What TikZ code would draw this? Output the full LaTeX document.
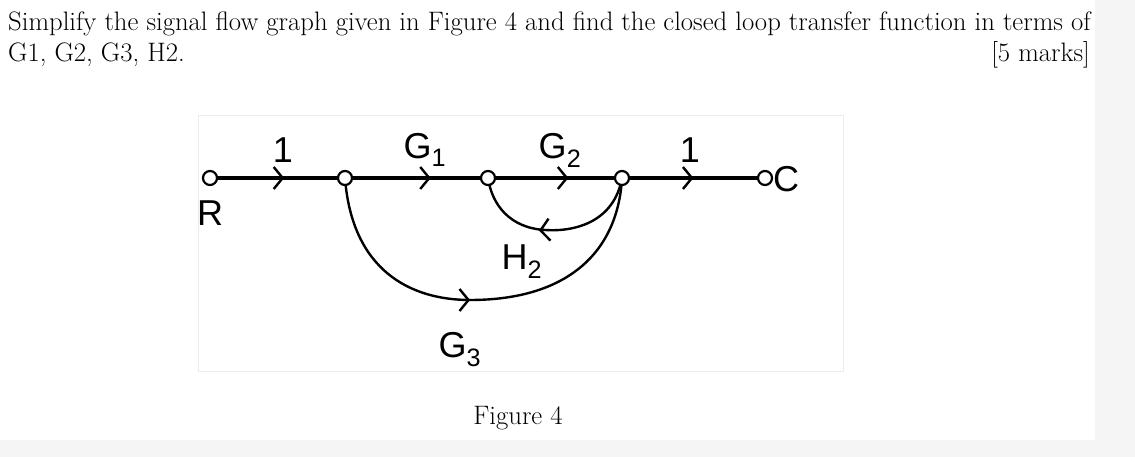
\documentclass[tikz,border=0pt]{standalone}
\usepackage{fontspec}
\newfontfamily\arial{Liberation Sans}
\usetikzlibrary{decorations.markings,arrows.meta}
\tikzset{
 sn/.style={circle,draw,line width=2.2pt,fill=white,minimum size=14pt,inner sep=0pt},
 br/.style={line width=3.4pt},
 cv/.style={line width=2.4pt},
 midarr/.style={postaction={decorate},decoration={markings,mark=at position #1 with {\arrow{Straight Barb[length=9pt,width=22pt,line width=2.4pt]}}}},
 lab/.style={font=\arial\fontsize{36}{40}\selectfont,inner sep=0pt},
 qt/.style={font=\fontsize{26.7}{30}\selectfont,inner sep=0pt},
}
\newcommand{\chev}{\tikz\draw[line width=2.4pt] (-9pt,11pt)--(0,0)--(-9pt,-11pt);}
\newcommand{\sbs}[1]{\textsubscript{#1}}
\begin{document}
\begin{tikzpicture}[x=1pt,y=-1pt]
\useasboundingbox (0,0) rectangle (1135,457);
\fill[gray!8] (0,0) rectangle (1135,457);
\fill[white] (0,0) rectangle (1095,440);
\draw[gray!15] (198,115) rectangle (843,371);
\node[anchor=base west,qt] (q1) at (8,31) {Simplify the signal flow graph given in Figure 4 and find the closed loop transfer function in terms of};
\node[anchor=base west,qt] (q2) at (8,62) {G1, G2, G3, H2.};
\node[anchor=base east,qt] (q3) at (1090,62) {[5 marks]};
\coordinate (R) at (210,178);
\coordinate (A) at (345,178);
\coordinate (B) at (488,178);
\coordinate (D) at (622,178);
\coordinate (C) at (765,178);
\coordinate (g3) at (470,300);
\coordinate (h2) at (545,230);
\draw[br,midarr=0.55] (R) -- (A);
\draw[br,midarr=0.6] (A) -- (B);
\draw[br,midarr=0.6] (B) -- (D);
\draw[br,midarr=0.5] (D) -- (C);
\draw[cv] (A) .. controls (352,270) and (410,300) .. (g3);
\draw[cv] (g3) .. controls (570,300) and (618,250) .. (D);
\draw[cv] (D) .. controls (614,222) and (575,232) .. (h2);
\draw[cv] (h2) .. controls (510,228) and (492,205) .. (B);
\path (g3) ++(-6,0) node[inner sep=0pt] (ag3) {\chev};
\path (h2) ++(0,0) node[rotate=185,inner sep=0pt] (ah2) {\chev};
\node[sn] (nR) at (R) {};
\node[sn] (nA) at (A) {};
\node[sn] (nB) at (B) {};
\node[sn] (nD) at (D) {};
\node[sn] (nC) at (C) {};
\node[lab] (l1) at (283,150) {1};
\node[lab] (lg1) at (425,150) {G\sbs{1}};
\node[lab] (lg2) at (560,150) {G\sbs{2}};
\node[lab] (l2) at (690,150) {1};
\node[lab] (lR) at (210,213) {R};
\node[lab,anchor=west] (lC) at (773,179) {C};
\node[lab] (lh2) at (522,262) {H\sbs{2}};
\node[lab] (lg3) at (460,350) {G\sbs{3}};
\node[qt] (fig) at (518,418) {Figure 4};
\end{tikzpicture}
\end{document}
